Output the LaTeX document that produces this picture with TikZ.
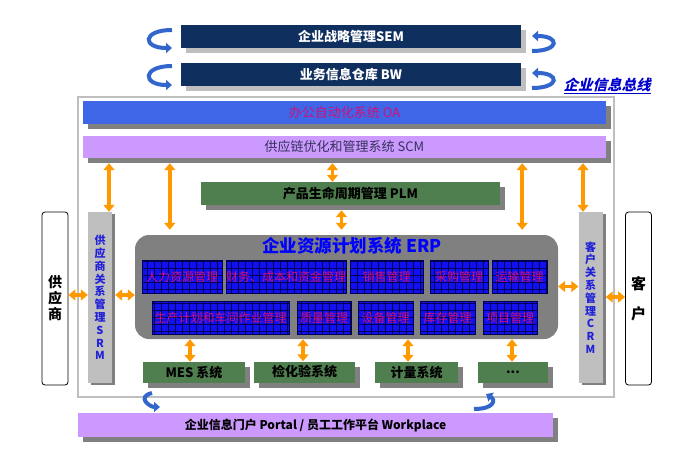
\documentclass[tikz,border=0pt]{standalone}
\usepackage{fontspec}
\setmainfont{Noto Sans CJK SC}
\newfontfamily\busfont{Noto Sans CJK SC}[FakeSlant=0.25]
\usetikzlibrary{arrows.meta,shadows,patterns.meta}
\definecolor{navy}{HTML}{0F2F5F}
\definecolor{oablue}{HTML}{3F66E6}
\definecolor{lilac}{HTML}{CC99FF}
\definecolor{leaf}{HTML}{4F7F4F}
\definecolor{amber}{HTML}{FF9900}
\definecolor{busblue}{HTML}{3366CC}
\definecolor{rose}{HTML}{D0107A}
\definecolor{modblue}{HTML}{1010F0}
\definecolor{scmtext}{HTML}{33335A}
\definecolor{sidetext}{HTML}{2020D8}
\begin{document}
\begin{tikzpicture}[x=1pt,y=-1pt,
    shade5/.style={drop shadow={shadow xshift=5pt,shadow yshift=-5pt,fill=#1,opacity=1}},
    bar/.style={inner sep=0pt,minimum height=23pt},
    navybar/.style={bar,fill=navy,text=white,minimum width=340pt,shade5=lightgray,
      font=\bfseries\fontsize{13}{15}\selectfont},
    wide/.style={bar,minimum width=523pt,shade5=gray,font=\fontsize{13}{15}\selectfont},
    greenbar/.style={inner sep=0pt,fill=leaf,shade5=gray,font=\bfseries\fontsize{13}{15}\selectfont},
    module/.style={inner sep=0pt,minimum height=33pt,draw=blue!30!black,preaction={fill=modblue},
      pattern={Hatch[angle=0,distance=7pt,line width=0.8pt]},pattern color=blue!30!black,
      text=rose,font=\fontsize{12}{14}\selectfont},
    sidebar/.style={fill=lightgray,text=sidetext,inner sep=0pt,minimum width=24pt,minimum height=171pt,
      align=center,font=\bfseries\fontsize{11}{12.8}\selectfont,
      drop shadow={shadow xshift=3pt,shadow yshift=-2pt,fill=gray,opacity=1}},
    party/.style={draw=black,fill=white,rounded corners=3pt,inner sep=0pt,line width=0.8pt,
      minimum width=26pt,minimum height=173pt,align=center},
    oarrow/.style={amber,line width=3.5pt,{Triangle[width=11pt,length=7pt]}-{Triangle[width=11pt,length=7pt]}},
    busarrow/.style={busblue,line width=4pt,-{Triangle[width=10pt,length=6pt]}}]
  \useasboundingbox (0,0) rectangle (683,464);
  % top layer
  \node[navybar] (sem) at (351,36.5) {企业战略管理SEM};
  \node[navybar] (bw) at (351,74.5) {业务信息仓库 BW};
  \node[draw=gray!50,line width=1.5pt,minimum width=536pt,minimum height=300pt,inner sep=0pt] (frame) at (346,247) {};
  \node[wide,fill=oablue,text=rose] (oa) at (344.5,112.5) {办公自动化系统 OA};
  \node[wide,fill=lilac,text=scmtext,minimum height=22pt] (scm) at (344.5,147) {供应链优化和管理系统 SCM};
  \node[greenbar,minimum width=299pt,minimum height=23pt] (plm) at (350.5,193.5) {产品生命周期管理 PLM};
  % ERP
  \node[fill=gray,rounded corners=14pt,minimum width=423pt,minimum height=104pt] (erp) at (346.5,287) {};
  \node[text=blue,font=\bfseries\fontsize{17.5}{19}\selectfont] (erptitle) at (352,246) {企业资源计划系统 ERP};
  \node[module,minimum width=80pt] (hr) at (182,276.5) {人力资源管理};
  \node[module,minimum width=114pt] (fin) at (286,276.5) {财务、成本和资金管理};
  \node[module,minimum width=73pt] (sales) at (386.5,276.5) {销售管理};
  \node[module,minimum width=58pt] (purch) at (459,276.5) {采购管理};
  \node[module,minimum width=55pt] (trans) at (519.5,276.5) {运输管理};
  \node[module,minimum width=137pt] (prod) at (220.5,317.5) {生产计划和车间作业管理};
  \node[module,minimum width=54pt] (qual) at (324,317.5) {质量管理};
  \node[module,minimum width=55pt] (equip) at (385.5,317.5) {设备管理};
  \node[module,minimum width=55pt] (stock) at (447.5,317.5) {库存管理};
  \node[module,minimum width=54pt] (proj) at (510,317.5) {项目管理};
  % sides
  \node[sidebar] (srm) at (100,297.5) {供\\应\\商\\关\\系\\管\\理\\S\\R\\M};
  \node[sidebar] (crm) at (590.5,297.5) {客\\户\\关\\系\\管\\理\\C\\R\\M};
  \node[party,font=\bfseries\fontsize{14}{16}\selectfont] (supp) at (55,298.5) {供\\应\\商};
  \node[party,font=\bfseries\fontsize{15}{30}\selectfont] (cust) at (638.5,298.5) {客\\户};
  % bottom systems
  \node[greenbar,minimum width=102pt,minimum height=21pt] (mes) at (194,372.5) {MES 系统};
  \node[greenbar,minimum width=101pt,minimum height=21pt] (lab) at (304.5,372) {检化验系统};
  \node[greenbar,minimum width=83pt,minimum height=21pt] (meter) at (416.5,372.5) {计量系统};
  \node[greenbar,minimum width=70pt,minimum height=21pt] (more) at (513,372.5) {...};
  \node[bar,fill=lilac,shade5=gray,minimum width=475pt,minimum height=24pt,
    font=\bfseries\fontsize{12}{14}\selectfont] (portal) at (315.5,425) {企业信息门户 Portal / 员工工作平台 Workplace};
  % orange links
  \draw[oarrow,shorten <=5pt] ([xshift=9pt]srm.north |- scm.south) -- ([xshift=9pt]srm.north);
  \draw[oarrow,shorten <=5pt,shorten >=5pt] ([xshift=35pt]erp.north west |- scm.south) -- ([xshift=35pt]erp.north west);
  \draw[oarrow,shorten <=5pt] ([xshift=-18pt]plm.north |- scm.south) -- ([xshift=-18pt]plm.north);
  \draw[oarrow,shorten <=5pt,shorten >=5pt] ([xshift=-9pt]plm.south) -- ([xshift=-9pt]plm.south |- erp.north);
  \draw[oarrow,shorten <=5pt,shorten >=5pt] ([xshift=-36pt]erp.north east |- scm.south) -- ([xshift=-36pt]erp.north east);
  \draw[oarrow,shorten <=5pt] ([xshift=-7.5pt]crm.north |- scm.south) -- ([xshift=-7.5pt]crm.north);
  \draw[oarrow] ([yshift=3.5pt]supp.east) -- ([yshift=3.5pt]supp.east -| srm.west);
  \draw[oarrow,shorten <=3pt] ([yshift=2.5pt]srm.east) -- ([yshift=2.5pt]srm.east -| erp.west);
  \draw[oarrow] ([yshift=0.5pt]erp.east) -- ([yshift=0.5pt]erp.east -| crm.west);
  \draw[oarrow,shorten <=3pt] ([yshift=0.5pt]crm.east) -- ([yshift=0.5pt]crm.east -| cust.west);
  \draw[oarrow] ([xshift=-4pt]mes.north |- erp.south) -- ([xshift=-4pt]mes.north);
  \draw[oarrow] ([xshift=-1.5pt]lab.north |- erp.south) -- ([xshift=-1.5pt]lab.north);
  \draw[oarrow] ([xshift=-8.5pt]meter.north |- erp.south) -- ([xshift=-8.5pt]meter.north);
  \draw[oarrow] ([xshift=-1pt]more.north |- erp.south) -- ([xshift=-1pt]more.north);
  % information bus
  \coordinate (tl1) at (172,30);
  \coordinate (tl2) at (172,66);
  \coordinate (tr1) at (532,51);
  \coordinate (tr2) at (532,88);
  \coordinate (bl) at (152,393);
  \coordinate (br) at (474,409);
  \draw[busarrow] (tl1) .. controls +(-30,0) and +(-30,0) .. +(0,18);
  \draw[busarrow] (tl2) .. controls +(-30,0) and +(-30,0) .. +(0,19);
  \draw[busarrow] (tr1) .. controls +(28,0) and +(28,0) .. +(0,-15);
  \draw[busarrow] (tr2) .. controls +(28,0) and +(28,0) .. +(0,-15);
  \draw[busarrow] (bl) .. controls +(-16,4) and +(-10,0) .. +(8,14);
  \draw[busarrow] (br) .. controls +(20,0) and +(10,6) .. +(12,-15);
  \node[text=blue!80!black,font=\busfont\bfseries\fontsize{14.5}{16}\selectfont] (buslabel) at (607,86) {\underline{企业信息总线}};
\end{tikzpicture}
\end{document}
